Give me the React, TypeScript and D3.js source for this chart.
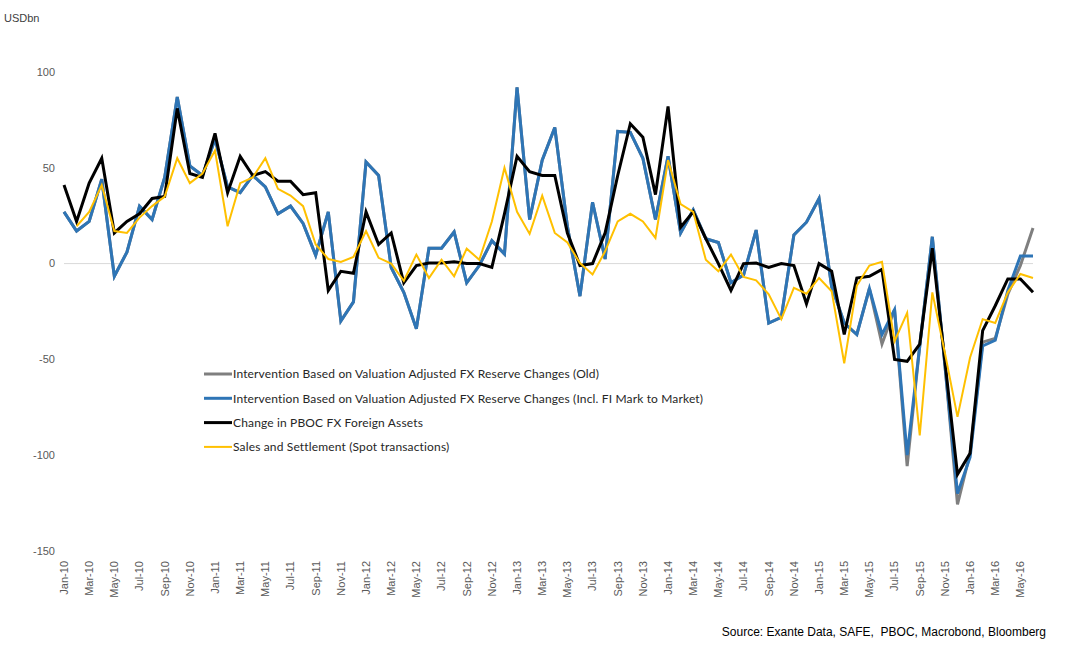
import { useEffect, useRef } from "react";
import * as d3 from "d3";

// monthly observations, Jan-10 .. Jun-16 (USD bn)
const months: Date[] = d3.timeMonth.range(new Date(2010, 0, 1), new Date(2016, 6, 1));

const pbocFxAssets: number[] = [
    41, 22, 42, 55, 16, 22, 26, 34, 35, 81, 47, 45,
    68, 37, 56, 46, 48, 43, 43, 36, 37, -14, -4, -5,
    27, 10, 16, -10, -1, 0.3, 0.3, 1, 0, 0, -2, 26,
    56, 48, 46, 46, 16, -1, 0, 16, 46, 73, 66, 36,
    82, 19, 27, 13, 0, -14, 0, 0.3, -2, 0, -1, -21,
    0, -4, -37, -7.5, -6.6, -3, -50, -51, -42, 8, -51, -110,
    -99, -35, -22, -8, -8, -15,
];

const interventionNew: number[] = [
    27, 17, 22, 44, -6.6, 6, 30, 23, 45, 87, 51, 46,
    65, 40, 37, 46, 40, 26, 30, 21, 4.3, 27, -30, -20,
    53, 46, -2, -15, -34, 8, 8, 16.5, -10, -1, 12, 5,
    92, 23, 54, 71, 19.5, -17, 32, 2.4, 69, 68.5, 55, 23,
    56, 16, 28, 13, 11, -10, -6, 17.5, -31, -28, 15, 21.6,
    34, -12, -31, -37, -13, -37, -24, -100, -43, 14, -53, -120,
    -101, -43, -40, -14, 4, 4,
];

const interventionOld: number[] = [
    27, 17, 22, 44, -6.6, 6, 30, 23, 45, 87, 51, 46,
    65, 40, 37, 46, 40, 26, 30, 21, 4.3, 27, -30, -20,
    53, 46, -2, -15, -34, 8, 8, 16.5, -10, -1, 12, 5,
    92, 23, 54, 71, 19.5, -17, 32, 2.4, 69, 68.5, 55, 23,
    56, 16, 28, 13, 11, -10, -6, 17.5, -31, -28, 15, 21.6,
    34, -12, -31, -37, -13, -42, -24, -105.7, -43, 14, -53, -125.7,
    -99, -41, -39, -16, -1, 18.6,
];

const salesSettlement: (number | null)[] = [
    null, 19.5, 27, 41, 17, 16, 24, 30, 35, 55, 42, 47,
    59, 19.5, 42, 45, 55, 39, 35.5, 30, 10, 2.4, 0.9, 3.5,
    17, 3, 0, -9, 4.7, -7.5, 2, -6.6, 7.8, 2, 22, 50,
    27, 15.5, 35.5, 16, 11, 0.3, -5.7, 6.4, 22, 26, 22, 13.4,
    54, 31, 27, 2, -4, 4.7, -7, -8.7, -16, -29, -12.7, -15.7,
    -7.5, -14.4, -52, -11.5, -1, 0.9, -40.5, -25.7, -89.7, -15, -46.6, -80,
    -49, -29, -31, -15, -5.4, -7.5,
];

const yTicks: number[] = [100, 50, 0, -50, -100, -150];

const seriesList = [
    { name: "Intervention Based on Valuation Adjusted FX Reserve Changes (Old)", values: interventionOld, color: "#7f7f7f", width: 3 },
    { name: "Intervention Based on Valuation Adjusted FX Reserve Changes (Incl. FI Mark to Market)", values: interventionNew, color: "#2e75b6", width: 3 },
    { name: "Change in PBOC FX Foreign Assets", values: pbocFxAssets, color: "#000000", width: 3 },
    { name: "Sales and Settlement (Spot transactions)", values: salesSettlement, color: "#ffc000", width: 2 },
];

const W = 1073;
const H = 647;

const App = () => {
    const ref = useRef<SVGSVGElement>(null);

    useEffect(() => {
        const svg = d3.select(ref.current);
        svg.selectAll("*").remove();

        const x = d3.scaleLinear().domain([0, months.length - 1]).range([64, 1033]);
        const y = d3.scaleLinear().domain([-150, 100]).range([551, 72]);
        const fmt = d3.timeFormat("%b-%y");
        const axisFont = "'Liberation Sans', Arial, sans-serif";

        svg.append("text")
            .attr("x", 4)
            .attr("y", 22)
            .attr("font-family", axisFont)
            .attr("font-size", 11)
            .attr("fill", "#404040")
            .text("USDbn");

        // y labels
        svg.append("g")
            .selectAll("text")
            .data(yTicks)
            .enter()
            .append("text")
            .attr("x", 55)
            .attr("y", (d) => y(d))
            .attr("dy", "0.35em")
            .attr("text-anchor", "end")
            .attr("font-family", axisFont)
            .attr("font-size", 11)
            .attr("fill", "#595959")
            .text((d) => d);

        // zero line
        svg.append("line")
            .attr("x1", x(0))
            .attr("x2", x(months.length - 1))
            .attr("y1", y(0))
            .attr("y2", y(0))
            .attr("stroke", "#d9d9d9")
            .attr("stroke-width", 1);

        // month labels every second month
        svg.append("g")
            .selectAll("text")
            .data(months.map((m, i) => ({ m, i })).filter((d) => d.i % 2 === 0))
            .enter()
            .append("text")
            .attr("transform", (d) => `translate(${x(d.i)},561) rotate(-90)`)
            .attr("dy", "0.35em")
            .attr("text-anchor", "end")
            .attr("font-family", axisFont)
            .attr("font-size", 11)
            .attr("fill", "#595959")
            .text((d) => fmt(d.m));

        const line = d3
            .line<number | null>()
            .defined((d) => d !== null)
            .x((_, i) => x(i))
            .y((d) => y(d as number));

        seriesList.forEach((s) => {
            svg.append("path")
                .datum(s.values as (number | null)[])
                .attr("d", line)
                .attr("fill", "none")
                .attr("stroke", s.color)
                .attr("stroke-width", s.width)
                .attr("stroke-linejoin", "miter");
        });

        // legend
        const legend = svg.append("g").attr("transform", "translate(204,374)");
        seriesList.forEach((s, i) => {
            const row = legend.append("g").attr("transform", `translate(0,${i * 24.3})`);
            row.append("line")
                .attr("x1", 0)
                .attr("x2", 28)
                .attr("stroke", s.color)
                .attr("stroke-width", s.width);
            row.append("text")
                .attr("x", 29)
                .attr("dy", "0.35em")
                .attr("font-family", "Lato, 'Open Sans', sans-serif")
                .attr("font-size", 12)
                .attr("letter-spacing", 0.15)
                .attr("fill", "#262626")
                .text(s.name);
        });

        svg.append("text")
            .attr("x", 1046)
            .attr("y", 636)
            .attr("text-anchor", "end")
            .attr("font-family", axisFont)
            .attr("font-size", 12)
            .attr("fill", "#000000")
            .style("white-space", "pre")
            .text("Source: Exante Data, SAFE,  PBOC, Macrobond, Bloomberg");
    }, []);

    return (
        <svg
            ref={ref}
            width={W}
            height={H}
            style={{ position: "absolute", left: 0, top: 0, background: "#ffffff" }}
        />
    );
};

export default App;
